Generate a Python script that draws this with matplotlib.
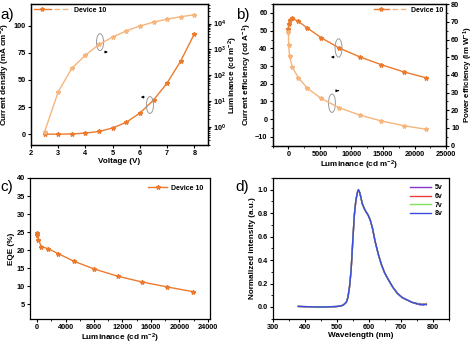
import matplotlib
matplotlib.use("Agg")
import matplotlib.pyplot as plt
from matplotlib.lines import Line2D
from matplotlib.patches import Ellipse
from matplotlib.legend_handler import HandlerTuple
from matplotlib.ticker import MultipleLocator, LogLocator, NullFormatter, FormatStrFormatter

plt.rcParams['font.family'] = ['Liberation Sans', 'DejaVu Sans']
plt.rcParams['font.weight'] = 'bold'
plt.rcParams['axes.labelweight'] = 'bold'
plt.rcParams['mathtext.fontset'] = 'custom'
plt.rcParams['mathtext.rm'] = 'Liberation Sans:bold'
plt.rcParams['mathtext.it'] = 'Liberation Sans:bold'
plt.rcParams['mathtext.bf'] = 'Liberation Sans:bold'
plt.rcParams['mathtext.default'] = 'rm'

# ---- device data (Device 10) ----
voltage = [2.5, 3.0, 3.5, 4.0, 4.5, 5.0, 5.5, 6.0, 6.5, 7.0, 7.5, 8.0]
current_density = [0.0, 0.0, 0.2, 1.0, 2.5, 5.7, 11.0, 19.5, 31.5, 47.2, 67.6, 92.6]
luminance = [0.65, 23, 185, 600, 1550, 3000, 5200, 8000, 11300, 14700, 18300, 21900]
current_eff = [51.0, 54.0, 56.2, 57.0, 55.3, 51.5, 46.0, 40.3, 35.2, 30.8, 26.7, 23.3]
power_eff = [64.0, 57.0, 50.5, 44.5, 38.5, 32.5, 26.7, 21.5, 17.3, 14.0, 11.3, 9.2]
eqe = [24.8, 24.3, 22.8, 21.0, 20.4, 19.0, 16.9, 14.8, 12.8, 11.2, 9.8, 8.5]

# ---- EL spectra at different driving voltages ----
wavelength = [380, 400, 420, 440, 460, 480, 500, 510, 520, 530, 535, 540, 545,
              550, 555, 560, 565, 568, 572, 576, 580, 586, 592, 598, 605, 612,
              620, 630, 640, 650, 660, 675, 690, 705, 720, 735, 750, 760, 770, 780]
spec_8v = [0.005, 0.003, 0.002, 0.000, 0.000, 0.002, 0.004, 0.008, 0.015, 0.040,
           0.080, 0.170, 0.310, 0.550, 0.780, 0.910, 0.980, 1.000, 0.975, 0.930,
           0.880, 0.840, 0.810, 0.785, 0.740, 0.670, 0.560, 0.450, 0.360, 0.290,
           0.240, 0.170, 0.115, 0.080, 0.060, 0.040, 0.028, 0.022, 0.018, 0.022]
spec_7v = spec_8v[:36] + [0.030, 0.024, 0.020, 0.026]
spec_6v = spec_8v[:36] + [0.026, 0.030, 0.016, 0.030]
spec_5v = spec_8v[:36] + [0.032, 0.018, 0.026, 0.020]
spectra_labels = ['5v', '6v', '7v', '8v']
spectra_colors = ['#8a35c9', '#e8413c', '#7fe05c', '#3a4de0']

ORANGE = '#ec7a2c'
LIGHT = '#f7b57c'

fig = plt.figure(figsize=(4.74, 3.44), dpi=100)
TICK_FS = 5.3
LABEL_FS = 5.9
LEG_FS = 5.0


def style_axes(ax):
    ax.tick_params(direction='out', length=2.5, width=0.8, labelsize=TICK_FS, pad=1.2)
    ax.tick_params(which='minor', direction='out', length=1.5, width=0.6)
    for s in ax.spines.values():
        s.set_linewidth(0.9)
    for lab in ax.get_xticklabels() + ax.get_yticklabels():
        lab.set_fontweight('bold')


def ring(ax, cx, cy, w, h, x0, x1, ya):
    ax.add_patch(Ellipse((cx, cy), w, h, transform=ax.transAxes, fill=False,
                         ec='#9a9a9a', lw=0.7, zorder=5))
    ax.annotate('', xy=(x1, ya), xytext=(x0, ya), xycoords='axes fraction',
                arrowprops=dict(arrowstyle='-|>', lw=0.6, color='black',
                                mutation_scale=3.5), zorder=6)


combo_handle = (Line2D([], [], color=ORANGE, lw=1.0, marker='*', ms=3),
                Line2D([], [], color=LIGHT, lw=1.0, ls=(0, (4, 2))))

# ---- (a) J-V-L ----
ax_a = fig.add_axes([0.0654, 0.5785, 0.3734, 0.4095])
ax_a.plot(voltage, current_density, color=ORANGE, lw=1.0, marker='*', ms=3.2)
ax_a.set_xlim(2, 8.5)
ax_a.set_ylim(-10, 120)
ax_a.xaxis.set_major_locator(MultipleLocator(1))
ax_a.yaxis.set_major_locator(MultipleLocator(25))
ax_a.set_xlabel('Voltage (V)', fontsize=LABEL_FS, labelpad=0.5)
ax_a.set_ylabel('Current density (mA cm$^{-2}$)', fontsize=LABEL_FS, labelpad=1)
ax_a2 = ax_a.twinx()
ax_a2.plot(voltage, luminance, color=LIGHT, lw=1.0, marker='*', ms=3.2,
           mfc='#fde3cc', mec=LIGHT)
ax_a2.set_yscale('log')
ax_a2.set_ylim(10 ** -0.7, 10 ** 4.75)
ax_a2.yaxis.set_major_locator(LogLocator(base=10, numticks=10))
ax_a2.yaxis.set_minor_formatter(NullFormatter())
ax_a2.set_ylabel('Luminance (cd m$^{-2}$)', fontsize=LABEL_FS, labelpad=0.5)
style_axes(ax_a)
style_axes(ax_a2)
ax_a.legend([combo_handle], ['Device 10'], handler_map={tuple: HandlerTuple(ndivide=None, pad=0.4)},
            loc='upper left', frameon=False, fontsize=LEG_FS, handlelength=5.4,
            borderaxespad=0.1, borderpad=0.3, handletextpad=0.4)
ring(ax_a, 0.39, 0.73, 0.04, 0.12, 0.40, 0.45, 0.66)
ring(ax_a, 0.672, 0.284, 0.04, 0.12, 0.655, 0.605, 0.34)

# ---- (b) CE / PE vs luminance ----
ax_b = fig.add_axes([0.5753, 0.5765, 0.3657, 0.4115])
ax_b.plot(luminance, current_eff, color=ORANGE, lw=1.0, marker='*', ms=3.2)
ax_b.set_xlim(-2500, 25000)
ax_b.set_ylim(-15, 65)
ax_b.xaxis.set_major_locator(MultipleLocator(5000))
ax_b.xaxis.set_minor_locator(MultipleLocator(2500))
ax_b.yaxis.set_major_locator(MultipleLocator(10))
ax_b.yaxis.set_minor_locator(MultipleLocator(5))
ax_b.set_xlabel('Luminance (cd m$^{-2}$)', fontsize=LABEL_FS, labelpad=0.5)
ax_b.set_ylabel('Current efficiency (cd A$^{-1}$)', fontsize=LABEL_FS, labelpad=1)
ax_b2 = ax_b.twinx()
ax_b2.plot(luminance, power_eff, color=LIGHT, lw=1.0, marker='*', ms=3.2,
           mfc='#fde3cc', mec=LIGHT)
ax_b2.set_ylim(0, 80)
ax_b2.yaxis.set_major_locator(MultipleLocator(10))
ax_b2.yaxis.set_minor_locator(MultipleLocator(5))
ax_b2.set_ylabel('Power efficiency (lm W$^{-1}$)', fontsize=5.7)
ax_b2.yaxis.set_label_coords(1.088, 0.5)
style_axes(ax_b)
style_axes(ax_b2)
ax_b.legend([combo_handle], ['Device 10'], handler_map={tuple: HandlerTuple(ndivide=None, pad=0.4)},
            loc='upper right', frameon=False, fontsize=LEG_FS, handlelength=5.0,
            borderaxespad=0.1, borderpad=0.3, handletextpad=0.4)
ring(ax_b, 0.38, 0.69, 0.04, 0.13, 0.365, 0.32, 0.626)
ring(ax_b, 0.342, 0.30, 0.04, 0.13, 0.362, 0.397, 0.388)

# ---- (c) EQE vs luminance ----
ax_c = fig.add_axes([0.0633, 0.0735, 0.3797, 0.4091])
ax_c.plot(luminance, eqe, color=ORANGE, lw=1.0, marker='*', ms=3.2, label='Device 10')
ax_c.set_xlim(-1000, 24300)
ax_c.set_ylim(1, 40)
ax_c.xaxis.set_major_locator(MultipleLocator(4000))
ax_c.xaxis.set_minor_locator(MultipleLocator(2000))
ax_c.yaxis.set_major_locator(MultipleLocator(5))
ax_c.set_xlabel('Luminance (cd m$^{-2}$)', fontsize=LABEL_FS, labelpad=0.5)
ax_c.set_ylabel('EQE (%)', fontsize=LABEL_FS, labelpad=1)
style_axes(ax_c)
ax_c.legend(loc='upper right', frameon=False, fontsize=LEG_FS, handlelength=2.8,
            borderaxespad=0.6, handletextpad=0.5)

# ---- (d) normalized EL spectra ----
ax_d = fig.add_axes([0.5753, 0.0735, 0.3713, 0.4091])
for lab, col, spec in zip(spectra_labels, spectra_colors, [spec_5v, spec_6v, spec_7v, spec_8v]):
    ax_d.plot(wavelength, spec, color=col, lw=1.0, label=lab)
ax_d.set_xlim(300, 850)
ax_d.set_ylim(-0.1, 1.1)
ax_d.xaxis.set_major_locator(MultipleLocator(100))
ax_d.xaxis.set_minor_locator(MultipleLocator(50))
ax_d.yaxis.set_major_locator(MultipleLocator(0.2))
ax_d.yaxis.set_minor_locator(MultipleLocator(0.1))
ax_d.yaxis.set_major_formatter(FormatStrFormatter('%.1f'))
ax_d.set_xlabel('Wavelength (nm)', fontsize=LABEL_FS, labelpad=0.5)
ax_d.set_ylabel('Normalized intensity (a.u.)', fontsize=LABEL_FS, labelpad=1)
style_axes(ax_d)
ax_d.legend(loc='upper right', frameon=False, fontsize=LEG_FS, handlelength=3.0,
            borderaxespad=0.5, handletextpad=0.5, labelspacing=0.25)

# ---- panel tags ----
for tag, x, y in [('a)', 0.0, 0.945), ('b)', 0.497, 0.945), ('c)', 0.0, 0.445), ('d)', 0.497, 0.445)]:
    fig.text(x, y, tag, fontsize=11, fontweight='normal')

fig.savefig('out.png', dpi=100)
